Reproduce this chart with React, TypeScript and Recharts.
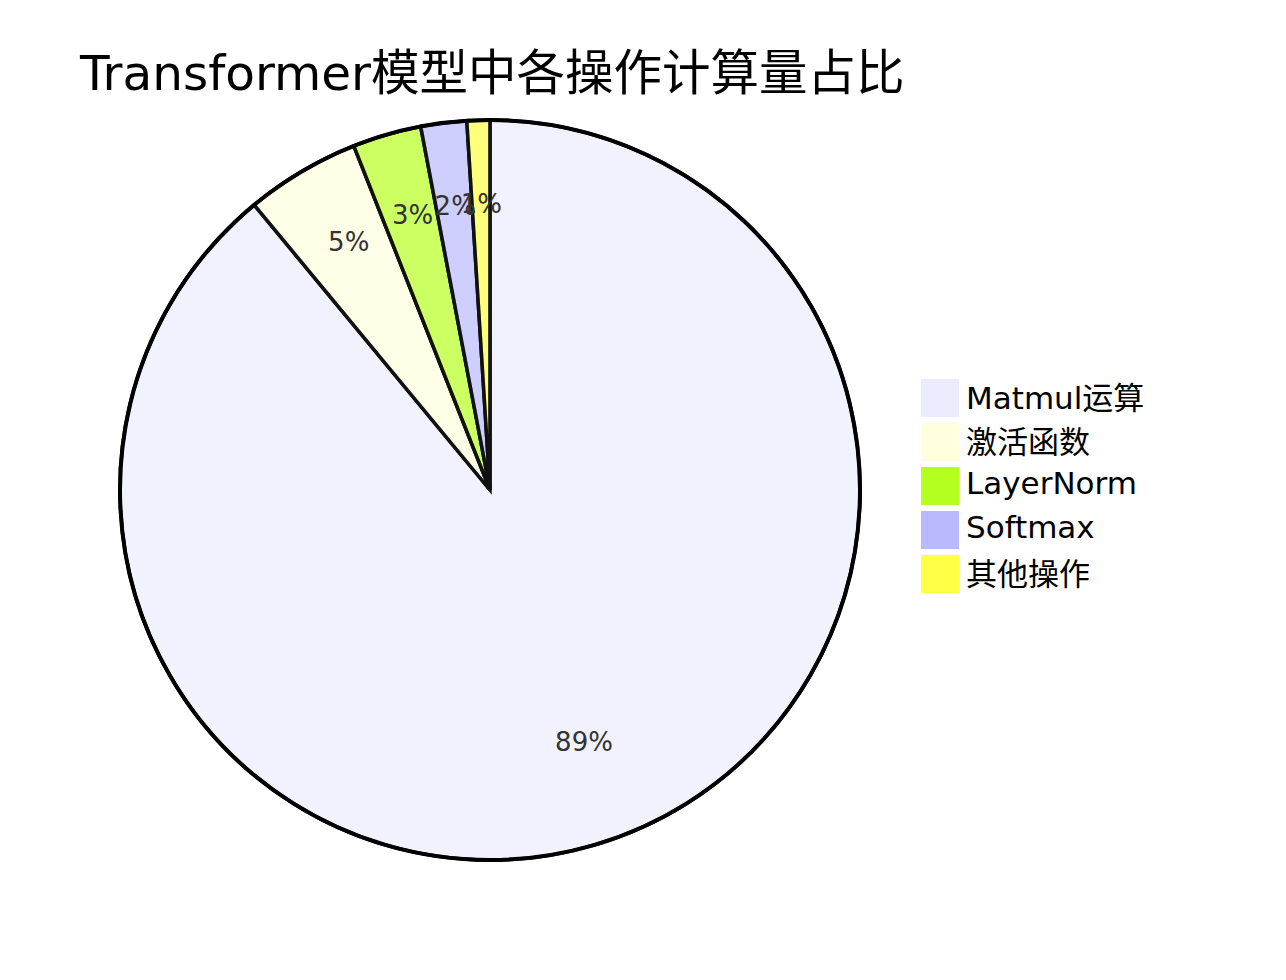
import { Cell, Legend, Pie, PieChart } from "recharts";

const labels = ["Matmul运算", "激活函数", "LayerNorm", "Softmax", "其他操作"];
const values = [89, 5, 3, 2, 1];
const colors = ["#ECECFF", "#FFFFDE", "#B5FF20", "#B9B9FF", "#FFFF45"];

const FONT = '"DejaVu Sans", "Noto Sans CJK SC", sans-serif';
const W = 1270;
const H = 964;
const CX = 482;
const CY = 482;
const R = 370;

const data = labels.map((name, i) => ({ name, value: values[i], fill: colors[i] }));
const total = values.reduce((a, b) => a + b, 0);

const renderLabel = (props: any) => {
  const { cx, cy, midAngle, value } = props;
  const radian = Math.PI / 180;
  const r = R * 0.75;
  const x = cx + r * Math.cos(-midAngle * radian);
  const y = cy + r * Math.sin(-midAngle * radian);
  return (
    <text x={x} y={y} textAnchor="middle" fill="#333333" fontSize={26} fontFamily={FONT}>
      {`${Math.round((value / total) * 100)}%`}
    </text>
  );
};

const renderLegend = () => (
  <div style={{ fontFamily: FONT }}>
    {data.map((d) => (
      <div key={d.name} style={{ display: "flex", alignItems: "center", height: 44 }}>
        <div style={{ width: 38, height: 38, background: d.fill, marginRight: 7, flexShrink: 0 }} />
        <span style={{ fontSize: 31, color: "#000", marginTop: -6 }}>{d.name}</span>
      </div>
    ))}
  </div>
);

const App = () => {
  return (
    <div style={{ position: "relative", width: W, height: H }}>
      <div
        style={{
          position: "absolute",
          left: 72,
          top: 41,
          fontSize: 48.5,
          lineHeight: 1,
          fontFamily: FONT,
          color: "#000",
          whiteSpace: "nowrap",
        }}
      >
        Transformer模型中各操作计算量占比
      </div>
      <PieChart width={W} height={H} margin={{ top: 0, right: 0, bottom: 0, left: 0 }}>
        <Pie
          data={data}
          dataKey="value"
          cx={CX}
          cy={CY}
          startAngle={90}
          endAngle={-270}
          innerRadius={0}
          outerRadius={R}
          isAnimationActive={false}
          label={renderLabel}
          labelLine={false}
        >
          {data.map((d) => (
            <Cell key={d.name} fill={d.fill} fillOpacity={0.7} stroke="#111" strokeWidth={3.5} />
          ))}
        </Pie>
        <Pie
          data={[{ name: "outline", value: 1 }]}
          dataKey="value"
          cx={CX}
          cy={CY}
          innerRadius={R}
          outerRadius={R}
          startAngle={90}
          endAngle={-270}
          fill="none"
          stroke="#000"
          strokeWidth={4}
          isAnimationActive={false}
          legendType="none"
        />
        <Legend
          content={renderLegend}
          layout="vertical"
          wrapperStyle={{ position: "absolute", left: 913, top: 368, width: 300 }}
        />
      </PieChart>
    </div>
  );
};

export default App;
